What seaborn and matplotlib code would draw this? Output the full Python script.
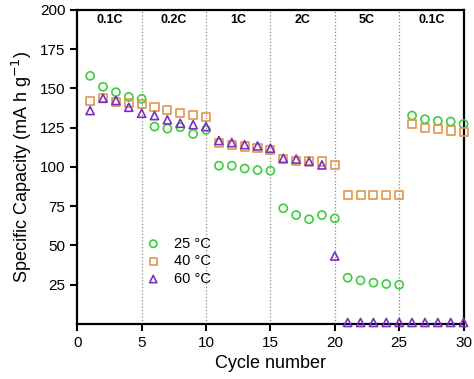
import numpy as np
import pandas as pd
import matplotlib
matplotlib.use("Agg")
import matplotlib.pyplot as plt
import seaborn as sns

cycles = list(range(1, 31))
cap_25 = [158, 151, 147.6, 144.6, 143.3, 125.7, 124.4, 125.3, 121, 123.6,
          100.8, 100.8, 99, 98, 97.6, 73.7, 69.4, 66.7, 69.4, 67.3,
          29.5, 27.8, 26.3, 25.5, 25, 132.7, 130.4, 129.3, 128.9, 127.4]
cap_40 = [142, 144, 141.5, 140.6, 140, 138, 136.3, 134.6, 133, 131.8,
          115, 114, 113, 112, 111, 105, 104, 104, 103.5, 101.5,
          82.2, 82.2, 82.2, 82.2, 82.2, 127.2, 125, 124, 123.2, 122.3]
cap_60 = [135.9, 143.7, 142.3, 138, 134.2, 132.7, 130, 127.8, 126.9, 125.7,
          116.8, 115.5, 114.2, 113.4, 111.9, 105.5, 105, 103.4, 101.3, 43.3,
          1, 1, 1, 1, 1, 1, 1, 1, 1, 1]
series = ["25 °C", "40 °C", "60 °C"]
colors = ["#3fcc3f", "#e0964a", "#7a30c0"]
markers = ["o", "s", "^"]
rate_labels = ["0.1C", "0.2C", "1C", "2C", "5C", "0.1C"]
rate_centers = [2.5, 7.5, 12.5, 17.5, 22.5, 27.5]
boundaries = [5, 10, 15, 20, 25]

sns.set_style("ticks")
plt.rcParams["font.family"] = ["Liberation Sans", "DejaVu Sans"]
plt.rcParams["text.color"] = "black"
plt.rcParams["axes.labelcolor"] = "black"
plt.rcParams["xtick.color"] = "black"
plt.rcParams["ytick.color"] = "black"
plt.rcParams["axes.edgecolor"] = "black"

fig, ax = plt.subplots(figsize=(4.74, 3.79), dpi=100)

for name, vals, col, mk in zip(series, [cap_25, cap_40, cap_60], colors, markers):
    df = pd.DataFrame({"cycle": cycles, "cap": vals})
    sns.scatterplot(data=df, x="cycle", y="cap", ax=ax, marker=mk, s=34,
                    facecolor="none", edgecolor=col, linewidth=1.2,
                    label=name, clip_on=False, zorder=3)

for b in boundaries:
    ax.axvline(b, color="#888888", linestyle=":", linewidth=0.9, zorder=1)

for lab, xc in zip(rate_labels, rate_centers):
    ax.text(xc, 193.5, lab, ha="center", va="center", fontsize=9,
            fontweight="bold")

ax.set_xlim(0, 30)
ax.set_ylim(0, 200)
ax.set_xticks(range(0, 31, 5))
ax.set_yticks(range(25, 201, 25))
ax.tick_params(direction="out", length=5, width=1.5, labelsize=11)
for sp in ax.spines.values():
    sp.set_linewidth(1.6)
    sp.set_visible(True)
ax.set_xlabel("Cycle number", fontsize=13)
ax.set_ylabel("Specific Capacity (mA h g$^{-1}$)", fontsize=13)

ax.legend(loc="center left", bbox_to_anchor=(0.125, 0.2), frameon=False,
          fontsize=10.5, handletextpad=0.4, labelspacing=0.25,
          markerscale=0.9)

fig.subplots_adjust(left=0.163, right=0.978, top=0.974, bottom=0.145)
fig.savefig("out.png", dpi=100)
